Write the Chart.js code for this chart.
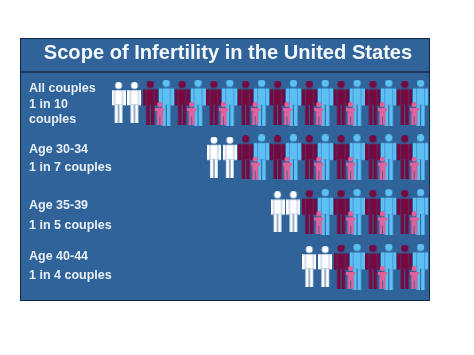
<!DOCTYPE html>
<html>
<head>
<meta charset="utf-8">
<title>Scope of Infertility in the United States</title>
<script src="https://cdn.jsdelivr.net/npm/chart.js@4"></script>
<style>
  html, body { margin: 0; padding: 0; background: #fff; }
  canvas { display: block; filter: blur(0.4px); }
</style>
</head>
<body>
<canvas id="grafico" width="474" height="355"></canvas>
<script>
var titulo = "Scope of Infertility in the United States";
var rowLabels = [
  ["All couples", "1 in 10", "couples"],
  ["Age 30-34", "1 in 7 couples"],
  ["Age 35-39", "1 in 5 couples"],
  ["Age 40-44", "1 in 4 couples"]
];
var couples = [10, 7, 5, 4];
var totalColumns = 20;

// one little person drawn on its own canvas, used as a point style
function person(color, w, h) {
  var c = document.createElement("canvas");
  c.width = w;
  c.height = h;
  var g = c.getContext("2d");
  var u = w / 14;
  var headR = 3.4 * u;
  var top = headR * 2 + 1.4 * u;
  var hip = top + (h - top) * 0.44;
  g.fillStyle = color;
  g.beginPath();
  g.arc(w / 2, headR, headR, 0, Math.PI * 2);
  g.fill();
  g.fillRect(0, top, 2.8 * u, (h - top) * 0.46);
  g.fillRect(w - 2.8 * u, top, 2.8 * u, (h - top) * 0.46);
  g.fillRect(3.2 * u, top, w - 6.4 * u, hip - top);
  g.fillRect(3.2 * u, hip, 3.3 * u, h - hip);
  g.fillRect(w - 6.5 * u, hip, 3.3 * u, h - hip);
  return c;
}

// the children are too small for arms, so a chunkier shape
function child(color, w, h) {
  var c = document.createElement("canvas");
  c.width = w;
  c.height = h;
  var g = c.getContext("2d");
  g.fillStyle = color;
  g.beginPath();
  g.arc(w / 2, 2.6, 2.6, 0, Math.PI * 2);
  g.fill();
  g.fillRect(0, 6, w, 3);
  g.fillRect(1.5, 6, w - 3, 8.5);
  g.fillRect(1.5, 14, 2.6, h - 14);
  g.fillRect(w - 4.1, 14, 2.6, h - 14);
  return c;
}

var whitePts = [], womanPts = [], manPts = [], kidPts = [];
couples.forEach(function (n, row) {
  var start = totalColumns - n * 2;
  for (var i = 0; i < n; i++) {
    var col = start + i * 2;
    if (i === 0) {
      whitePts.push({ x: col, y: row }, { x: col + 1, y: row });
    } else {
      womanPts.push({ x: col, y: row });
      manPts.push({ x: col + 1, y: row });
      kidPts.push({ x: col + 0.6, y: row + 0.2 });
    }
  }
});

function serie(label, pts, icon, order) {
  return {
    label: label,
    data: pts,
    pointStyle: icon,
    pointRadius: 8,
    pointHoverRadius: 8,
    showLine: false,
    order: order
  };
}

var painel = {
  id: "painel",
  beforeDraw: function (chart) {
    var g = chart.ctx;
    var a = chart.chartArea;
    var x = a.left - 6;
    var y = chart.titleBlock.top;
    g.save();
    g.fillStyle = "#2f6399";
    g.fillRect(x, y, a.right - x, a.bottom - y);
    g.strokeStyle = "#10284a";
    g.lineWidth = 1;
    g.strokeRect(x + 0.5, y + 0.5, a.right - x - 1, a.bottom - y - 1);
    g.lineWidth = 1.5;
    g.beginPath();
    g.moveTo(x, a.top);
    g.lineTo(a.right, a.top);
    g.stroke();
    g.restore();
  }
};

var lineGaps = [15.5, 18, 20, 19];
var labelNudge = [0.03, 0.03, 0.06, 0];

new Chart(document.getElementById("grafico").getContext("2d"), {
  type: "scatter",
  data: {
    datasets: [
      serie("Infertile couple", whitePts, person("#ffffff", 14, 41), 3),
      serie("Woman", womanPts, person("#740a40", 15, 44), 2),
      serie("Man", manPts, person("#5cc0f4", 15, 46), 2),
      serie("Child", kidPts, child("#e0619b", 9, 23), 1)
    ]
  },
  options: {
    responsive: false,
    animation: false,
    layout: { padding: { top: 38, left: 26, right: 44, bottom: 54 } },
    plugins: {
      legend: { display: false },
      tooltip: { enabled: false },
      title: {
        display: true,
        text: titulo,
        color: "#f4f7fb",
        font: { family: "'Liberation Sans', Arial, sans-serif", size: 20.1, weight: "bold", lineHeight: "24px" },
        padding: { top: 3.5, bottom: 6.5 }
      }
    },
    scales: {
      x: {
        type: "linear",
        display: false,
        min: -5.818,
        max: 19.591
      },
      y: {
        type: "linear",
        reverse: true,
        min: -0.558,
        max: 3.631,
        border: { display: false },
        grid: { display: false },
        afterFit: function (axis) {
          axis.width = 0;
        },
        afterBuildTicks: function (axis) {
          axis.ticks = rowLabels.map(function (l, i) {
            return { value: i + labelNudge[i] };
          });
        },
        ticks: {
          mirror: true,
          padding: 3,
          autoSkip: false,
          color: "#e9eff6",
          font: function (ctx) {
            return {
              family: "'Liberation Sans', Arial, sans-serif",
              size: 12.5,
              weight: "bold",
              lineHeight: lineGaps[ctx.index] + "px"
            };
          },
          callback: function (v, i) {
            return rowLabels[i];
          }
        }
      }
    }
  },
  plugins: [painel]
});
</script>
</body>
</html>
